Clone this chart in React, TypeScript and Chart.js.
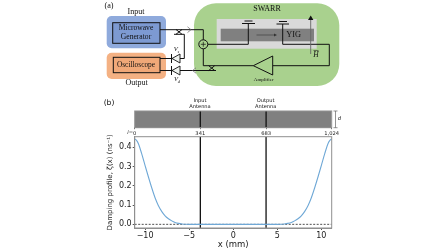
import React, { useEffect, useRef } from "react";
import { Chart, registerables } from "chart.js";

Chart.register(...registerables);

const profileX = [-11.18, -11.0, -10.77, -10.39, -10.0, -9.63, -9.25, -8.87, -8.5, -8.1, -7.73, -7.35, -6.97, -6.6, -6.2, -5.8, -5.4, -5.0, -3.73, 0, 3.73, 5.0, 5.4, 5.8, 6.2, 6.6, 6.97, 7.35, 7.73, 8.1, 8.5, 8.87, 9.25, 9.63, 10.0, 10.39, 10.77, 11.0, 11.18];
const profileY = [0.443, 0.437, 0.42, 0.367, 0.305, 0.247, 0.19, 0.138, 0.098, 0.066, 0.044, 0.029, 0.018, 0.01, 0.005, 0.002, 0.0005, 0, 0, 0, 0, 0, 0.0005, 0.002, 0.005, 0.01, 0.018, 0.029, 0.044, 0.066, 0.098, 0.138, 0.19, 0.247, 0.305, 0.367, 0.42, 0.437, 0.443];
const antennaMm = [-3.73, 3.73];
const antennaIndex = [341, 683];
const indexTicks = [0, 341, 683, 1024];
const xTicks = [-10, -5, 0, 5, 10];
const yTicks = [0, 0.1, 0.2, 0.3, 0.4];
const yTitle = "Damping profile, ζ(x) (ns⁻¹)";
const xTitle = "x (mm)";

const SANS = "'DejaVu Sans'";
const SPINE = "#8f8f8f";
const INK = "#1a1a1a";

const framePlugin = {
  id: "frame",
  afterDatasetsDraw(chart: any) {
    const { ctx, chartArea: a } = chart;
    ctx.save();
    ctx.strokeStyle = SPINE;
    ctx.lineWidth = 1;
    ctx.strokeRect(a.left, a.top, a.right - a.left, a.bottom - a.top);
    ctx.restore();
  },
};

const fullCanvas: React.CSSProperties = { position: "absolute", left: 0, top: 0, width: 448, height: 252 };

function makeMain(canvas: HTMLCanvasElement) {
  const lines = antennaMm.map((x) => ({
    data: [{ x, y: -0.019 }, { x, y: 0.455 }],
    borderColor: "#111",
    borderWidth: 1.3,
    pointRadius: 0,
  }));
  return new Chart(canvas, {
    type: "scatter",
    data: {
      datasets: [
        {
          data: profileX.map((x, i) => ({ x, y: profileY[i] })),
          showLine: true,
          borderColor: "#6fa8d6",
          borderWidth: 1.1,
          pointRadius: 0,
          cubicInterpolationMode: "monotone",
        },
        {
          data: [{ x: -11.18, y: 0 }, { x: 11.18, y: 0 }],
          showLine: true,
          borderColor: "#222",
          borderWidth: 0.8,
          borderDash: [2, 1.5],
          pointRadius: 0,
        },
        ...lines.map((l) => ({ ...l, showLine: true })),
      ],
    } as any,
    options: {
      animation: false,
      responsive: false,
      layout: { padding: { left: 106, top: 136.7, right: 116.3, bottom: 2 } },
      plugins: { legend: { display: false }, tooltip: { enabled: false } },
      scales: {
        x: {
          type: "linear",
          min: -11.18,
          max: 11.18,
          grid: { drawOnChartArea: false, color: "#555", tickLength: 2 },
          border: { color: SPINE },
          afterBuildTicks: (s: any) => { s.ticks = xTicks.map((value) => ({ value })); },
          afterFit: (s: any) => { s.height = 22; },
          ticks: { font: { family: SANS, size: 8 }, color: INK, padding: 1, maxRotation: 0, callback: (v: any) => String(v).replace("-", "−") },
          title: { display: true, text: xTitle, font: { family: SANS, size: 8.5 }, color: INK, padding: 0 },
        },
        y: {
          type: "linear",
          min: -0.019,
          max: 0.455,
          grid: { drawOnChartArea: false, color: "#555", tickLength: 2 },
          border: { color: SPINE },
          afterBuildTicks: (s: any) => { s.ticks = yTicks.map((value) => ({ value })); },
          afterFit: (s: any) => { s.width = 28.7; },
          ticks: { font: { family: SANS, size: 8 }, color: INK, padding: 1, callback: (v: any) => Number(v).toFixed(1) },
          title: { display: true, text: yTitle, font: { family: SANS, size: 7 }, color: INK, padding: 0 },
        },
      },
    },
    plugins: [framePlugin],
  } as any);
}

function makeStrip(canvas: HTMLCanvasElement) {
  return new Chart(canvas, {
    type: "scatter",
    data: {
      datasets: [
        ...antennaIndex.map((x) => ({
          data: [{ x, y: 0 }, { x, y: 1 }],
          showLine: true,
          borderColor: "#111",
          borderWidth: 1.3,
          pointRadius: 0,
        })),
        {
          data: [{ x: 0, y: 1 }, { x: 1024, y: 1 }],
          showLine: true,
          fill: "start",
          backgroundColor: "#808080",
          borderWidth: 0,
          pointRadius: 0,
        },
      ],
    } as any,
    options: {
      animation: false,
      responsive: false,
      layout: { padding: { left: 134.7, top: 111, right: 116.3, bottom: 114 } },
      plugins: { legend: { display: false }, tooltip: { enabled: false } },
      scales: {
        x: {
          type: "linear",
          min: 0,
          max: 1024,
          grid: { drawOnChartArea: false, color: "#777", tickLength: 1.5 },
          border: { color: SPINE },
          afterBuildTicks: (s: any) => { s.ticks = indexTicks.map((value) => ({ value })); },
          afterFit: (s: any) => { s.height = 10.3; },
          ticks: { font: { family: SANS, size: 5.2 }, color: INK, padding: 1, maxRotation: 0, autoSkip: false },
        },
        y: { type: "linear", min: 0, max: 1, display: false },
      },
    },
    plugins: [framePlugin],
  } as any);
}

const serif = "'Liberation Serif'";
const sans = "'DejaVu Sans'";

function Label(p: { x: number; y: number; s: number; f?: string; a?: string; i?: boolean; c?: string; children: React.ReactNode }) {
  return (
    <text x={p.x} y={p.y} fontSize={p.s} fontFamily={p.f ?? serif} textAnchor={(p.a ?? "middle") as any} fontStyle={p.i ? "italic" : "normal"} fill={p.c ?? "#111"} dominantBaseline="middle">
      {p.children}
    </text>
  );
}

function Diagram() {
  const w = { fill: "none", stroke: "#111", strokeWidth: 1 };
  return (
    <svg width={448} height={252} style={{ position: "absolute", left: 0, top: 0 }}>
      <rect x={106.7} y={16} width={59.3} height={32.3} rx={5} fill="#8faadc" />
      <rect x={112.7} y={22.7} width={47.3} height={20.6} fill="#7d9ad2" stroke="#111" strokeWidth={1} />
      <rect x={106.7} y={52.7} width={59.3} height={26.3} rx={5} fill="#f4b183" />
      <rect x={113.3} y={57.3} width={46.7} height={15.4} fill="#f0a878" stroke="#111" strokeWidth={1} />
      <rect x={194} y={3.3} width={145.3} height={82.7} rx={22} fill="#a9d18e" />
      <rect x={216.7} y={19} width={100} height={29.7} fill="#d9d9d9" />
      <rect x={220.7} y={28.7} width={93.3} height={12.6} fill="#808080" />

      <path d="M160 29.7H203.3V40" {...w} />
      <path d="M174 34.3H184.3V58.5H160" {...w} />
      <path d="M160 70.5H216" {...w} />
      <path d="M203.3 48.8V65.7H253.3" {...w} />
      <path d="M207.8 44.3H248.3V23.5" {...w} />
      <path d="M282.7 24V44.3H329.3V65.7H272.7" {...w} />
      <path d="M242 23.5H255M244.5 21H252.5M276.5 24H289M279 21.5H287" {...w} />
      <circle cx={203.3} cy={44.3} r={4.5} fill="#a9d18e" stroke="#111" strokeWidth={1} />
      <path d="M200.8 44.3H205.8M203.3 41.8V46.8" {...w} strokeWidth={0.7} />
      <path d="M253.3 65.7L272.7 56V75Z" fill="#a9d18e" stroke="#111" strokeWidth={1} />
      <path d="M187.5 26.8L191 29.7L187.5 32.6M196 67.8L192.5 70.5L196 73.2" fill="none" stroke="#666" strokeWidth={0.7} />
      <path d="M176 29.5L182 34.3M182 29.5L176 34.3M208.7 65.7L214.7 70.5M214.7 65.7L208.7 70.5" {...w} />
      <path d="M180 54V63L172 58.5ZM180 66V75L172 70.5Z" fill="#eef2ee" stroke="#111" strokeWidth={0.9} />
      <path d="M171.5 54V63M171.5 66V75" {...w} />
      <path d="M256.5 35H274" stroke="#333" strokeWidth={0.6} />
      <path d="M274 33.5L277 35L274 36.5Z" fill="#333" />
      <path d="M310.7 54V19" stroke="#666" strokeWidth={0.9} />
      <path d="M308 20L310.7 15.5L313.4 20Z" fill="#111" />

      <Label x={109} y={6} s={8.2}>(a)</Label>
      <Label x={136} y={11.7} s={8}>Input</Label>
      <Label x={136} y={28} s={7.6}>Microwave</Label>
      <Label x={136} y={37} s={7.6}>Generator</Label>
      <Label x={136} y={65.3} s={7.4}>Oscilloscope</Label>
      <Label x={136.7} y={83} s={8}>Output</Label>
      <Label x={267} y={9.3} s={8}>SWARR</Label>
      <Label x={293.7} y={35.5} s={8.3}>YIG</Label>
      <Label x={316} y={55.5} s={7.5} i>H</Label>
      <path d="M313.5 50.5H318.5" stroke="#111" strokeWidth={0.5} />
      <Label x={263.7} y={79.5} s={5}>Amplifier</Label>
      <Label x={176.5} y={50} s={6.5} i>V<tspan fontSize={4.5} dy={1.5}>s</tspan></Label>
      <Label x={177} y={80} s={6.5} i>V<tspan fontSize={4.5} dy={1.5}>d</tspan></Label>

      <Label x={109} y={102.5} s={7.6} f={sans}>(b)</Label>
      <Label x={200} y={100.5} s={5.1} f={sans}>Input</Label>
      <Label x={200} y={106.5} s={5.1} f={sans}>Antenna</Label>
      <Label x={265.7} y={100.5} s={5.1} f={sans}>Output</Label>
      <Label x={265.7} y={106.5} s={5.1} f={sans}>Antenna</Label>
      <Label x={133} y={132.8} s={5.2} f={sans} a="end" i>i=</Label>
      <path d="M333.5 111H337.5M335.5 111V127.7M333.5 127.7H337.5" fill="none" stroke="#666" strokeWidth={0.7} />
      <Label x={339.5} y={119} s={5.2} f={sans} i>d</Label>
    </svg>
  );
}

export default function App() {
  const main = useRef<HTMLCanvasElement>(null);
  const strip = useRef<HTMLCanvasElement>(null);
  useEffect(() => {
    const a = makeMain(main.current!);
    const b = makeStrip(strip.current!);
    return () => { a.destroy(); b.destroy(); };
  }, []);
  return (
    <div style={{ position: "fixed", left: 0, top: 0, width: 448, height: 252, background: "#fff", overflow: "hidden", filter: "blur(0.4px)" }}>
      <canvas ref={strip} width={448} height={252} style={fullCanvas} />
      <canvas ref={main} width={448} height={252} style={fullCanvas} />
      <Diagram />
    </div>
  );
}
